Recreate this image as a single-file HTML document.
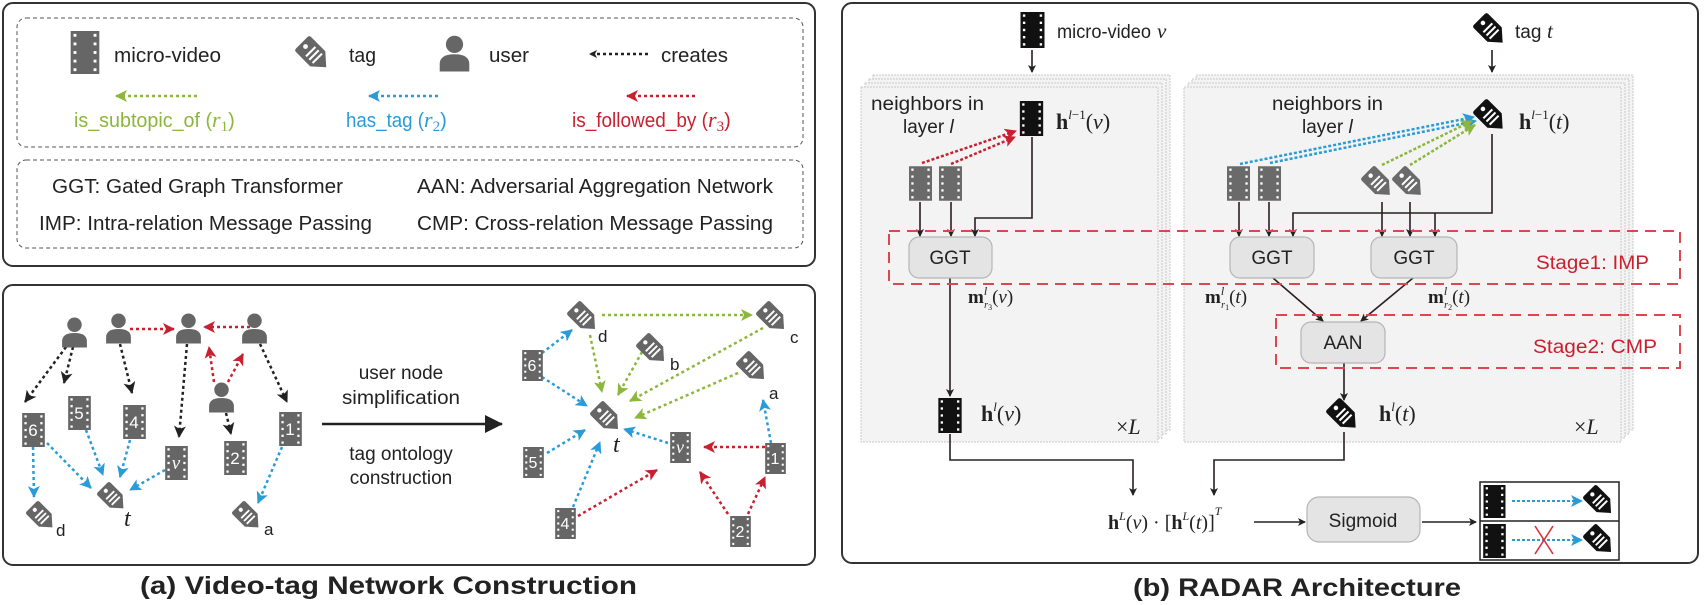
<!DOCTYPE html>
<html><head><meta charset="utf-8"><style>
html,body{margin:0;padding:0;background:#fff;}
svg{display:block;}
.s{font-family:"Liberation Sans",sans-serif;}
.m{font-family:"Liberation Serif",serif;}
</style></head><body>
<svg width="1704" height="605" viewBox="0 0 1704 605" xmlns="http://www.w3.org/2000/svg">
<defs>
<symbol id="vid" viewBox="0 0 20 30"><rect x="0" y="0" width="20" height="30"/>
<g fill="#fff"><rect x="2" y="2" width="2" height="2"/><rect x="2" y="8" width="2" height="2"/><rect x="2" y="14" width="2" height="2"/><rect x="2" y="20" width="2" height="2"/><rect x="2" y="26" width="2" height="2"/>
<rect x="16" y="2" width="2" height="2"/><rect x="16" y="8" width="2" height="2"/><rect x="16" y="14" width="2" height="2"/><rect x="16" y="20" width="2" height="2"/><rect x="16" y="26" width="2" height="2"/></g></symbol>
<symbol id="tag" viewBox="0 0 30 30"><g transform="rotate(-45 15 15)"><path d="M7,4 Q7,2 9,2 H21 Q23,2 23,4 V19 L15,28 L7,19 Z"/><circle cx="15" cy="6" r="1.8" fill="#fff"/><g stroke="#fff" stroke-width="1.6"><line x1="10" y1="11.5" x2="20" y2="11.5"/><line x1="10" y1="15" x2="20" y2="15"/><line x1="10" y1="18.5" x2="20" y2="18.5"/></g></g></symbol>
<symbol id="usr" viewBox="0 0 30 30"><circle cx="15" cy="8" r="7"/><path d="M3,30 V24 Q3,16 15,16 Q27,16 27,24 V30 Z"/></symbol>
<marker id="mk" markerWidth="8" markerHeight="8" refX="7" refY="4" orient="auto" markerUnits="userSpaceOnUse"><path d="M0,0 L8,4 L0,8 L2,4 Z" fill="#222"/></marker>
<marker id="mg" markerWidth="12" markerHeight="12" refX="11" refY="6" orient="auto" markerUnits="userSpaceOnUse"><path d="M0,0 L12,6 L0,12 L3,6 Z" fill="#8cb63c"/></marker>
<marker id="mb" markerWidth="12" markerHeight="12" refX="11" refY="6" orient="auto" markerUnits="userSpaceOnUse"><path d="M0,0 L12,6 L0,12 L3,6 Z" fill="#2b9bd8"/></marker>
<marker id="mr" markerWidth="12" markerHeight="12" refX="11" refY="6" orient="auto" markerUnits="userSpaceOnUse"><path d="M0,0 L12,6 L0,12 L3,6 Z" fill="#c8202f"/></marker>
<marker id="mkk" markerWidth="12" markerHeight="12" refX="11" refY="6" orient="auto" markerUnits="userSpaceOnUse"><path d="M0,0 L12,6 L0,12 L3,6 Z" fill="#222"/></marker>
<marker id="mbig" markerWidth="18" markerHeight="18" refX="17" refY="9" orient="auto" markerUnits="userSpaceOnUse"><path d="M0,0 L18,9 L0,18 Z" fill="#222"/></marker>
</defs>

<rect x="3" y="3" width="812" height="263" rx="10" fill="#fff" stroke="#333" stroke-width="2"/>
<rect x="17" y="18" width="786" height="129" rx="9" fill="none" stroke="#555" stroke-width="1" stroke-dasharray="4 3"/>
<rect x="17" y="160" width="786" height="88" rx="9" fill="none" stroke="#555" stroke-width="1" stroke-dasharray="4 3"/>
<use href="#vid" x="69" y="31" width="32" height="43" fill="#666" preserveAspectRatio="none"/>
<text class="s" x="114" y="62" font-size="20" textLength="107" lengthAdjust="spacingAndGlyphs" fill="#222">micro-video</text>
<use href="#tag" x="294" y="35" width="40" height="40" fill="#666"/>
<text class="s" x="349" y="62" font-size="20" textLength="27" lengthAdjust="spacingAndGlyphs" fill="#222">tag</text>
<use href="#usr" x="436" y="33" width="37" height="40" fill="#666" preserveAspectRatio="none"/>
<text class="s" x="489" y="62" font-size="20" textLength="40" lengthAdjust="spacingAndGlyphs" fill="#222">user</text>
<line x1="648" y1="54" x2="590" y2="54" stroke="#222" stroke-width="2.5" stroke-dasharray="3 3" marker-end="url(#mk)"/>
<text class="s" x="661" y="62" font-size="20" textLength="67" lengthAdjust="spacingAndGlyphs" fill="#222">creates</text>
<line x1="197" y1="96" x2="116" y2="96" stroke="#8cb63c" stroke-width="2.5" stroke-dasharray="3 3" marker-end="url(#mg)"/>
<line x1="438" y1="96" x2="369" y2="96" stroke="#2b9bd8" stroke-width="2.5" stroke-dasharray="3 3" marker-end="url(#mb)"/>
<line x1="695" y1="96" x2="627" y2="96" stroke="#c8202f" stroke-width="2.5" stroke-dasharray="3 3" marker-end="url(#mr)"/>
<text class="s" x="74" y="127" font-size="20" fill="#8cb63c"><tspan textLength="138" lengthAdjust="spacingAndGlyphs">is_subtopic_of (</tspan><tspan class="m" font-style="italic" font-size="22">r</tspan><tspan class="m" font-size="15" dy="4">1</tspan><tspan dy="-4">)</tspan></text>
<text class="s" x="346" y="127" font-size="20" fill="#2b9bd8"><tspan textLength="78" lengthAdjust="spacingAndGlyphs">has_tag (</tspan><tspan class="m" font-style="italic" font-size="22">r</tspan><tspan class="m" font-size="15" dy="4">2</tspan><tspan dy="-4">)</tspan></text>
<text class="s" x="572" y="127" font-size="20" fill="#c8202f"><tspan textLength="136" lengthAdjust="spacingAndGlyphs">is_followed_by (</tspan><tspan class="m" font-style="italic" font-size="22">r</tspan><tspan class="m" font-size="15" dy="4">3</tspan><tspan dy="-4">)</tspan></text>
<text class="s" x="52" y="193" font-size="20" textLength="291" lengthAdjust="spacingAndGlyphs" fill="#222">GGT: Gated Graph Transformer</text>
<text class="s" x="417" y="193" font-size="20" textLength="356" lengthAdjust="spacingAndGlyphs" fill="#222">AAN: Adversarial Aggregation Network</text>
<text class="s" x="39" y="230" font-size="20" textLength="333" lengthAdjust="spacingAndGlyphs" fill="#222">IMP: Intra-relation Message Passing</text>
<text class="s" x="417" y="230" font-size="20" textLength="356" lengthAdjust="spacingAndGlyphs" fill="#222">CMP: Cross-relation Message Passing</text>

<rect x="3" y="285" width="812" height="280" rx="10" fill="#fff" stroke="#333" stroke-width="2"/>
<g stroke-width="2.5" stroke-dasharray="3 3" fill="none">
<g stroke="#222">
<line x1="66" y1="347" x2="25" y2="402" marker-end="url(#mkk)"/>
<line x1="73" y1="347" x2="64" y2="383" marker-end="url(#mkk)"/>
<line x1="120" y1="344" x2="132" y2="393" marker-end="url(#mkk)"/>
<line x1="187" y1="344" x2="179" y2="437" marker-end="url(#mkk)"/>
<line x1="226" y1="413" x2="231" y2="434" marker-end="url(#mkk)"/>
<line x1="260" y1="344" x2="287" y2="402" marker-end="url(#mkk)"/>
</g>
<g stroke="#c8202f">
<line x1="130" y1="329" x2="174" y2="329" marker-end="url(#mr)"/>
<line x1="250" y1="327" x2="204" y2="327" marker-end="url(#mr)"/>
<line x1="214" y1="382" x2="209" y2="347" marker-end="url(#mr)"/>
<line x1="228" y1="382" x2="243" y2="354" marker-end="url(#mr)"/>
</g>
<g stroke="#2b9bd8">
<line x1="33" y1="447" x2="34" y2="497" marker-end="url(#mb)"/>
<line x1="47" y1="443" x2="91" y2="488" marker-end="url(#mb)"/>
<line x1="86" y1="430" x2="103" y2="475" marker-end="url(#mb)"/>
<line x1="130" y1="440" x2="120" y2="477" marker-end="url(#mb)"/>
<line x1="165" y1="470" x2="130" y2="490" marker-end="url(#mb)"/>
<line x1="282" y1="447" x2="258" y2="503" marker-end="url(#mb)"/>
</g>
</g>
<g fill="#666">
<use href="#usr" x="59" y="316" width="31" height="32"/>
<use href="#usr" x="103" y="312" width="31" height="32"/>
<use href="#usr" x="173" y="312" width="31" height="32"/>
<use href="#usr" x="239" y="312" width="31" height="32"/>
<use href="#usr" x="206" y="381" width="31" height="32"/>
<use href="#vid" x="21" y="413" width="25" height="34" preserveAspectRatio="none"/>
<use href="#vid" x="67" y="396" width="25" height="34" preserveAspectRatio="none"/>
<use href="#vid" x="122" y="405" width="25" height="34" preserveAspectRatio="none"/>
<use href="#vid" x="164" y="446" width="25" height="34" preserveAspectRatio="none"/>
<use href="#vid" x="223" y="441" width="25" height="34" preserveAspectRatio="none"/>
<use href="#vid" x="278" y="412" width="25" height="34" preserveAspectRatio="none"/>
<use href="#tag" x="25" y="500" width="34" height="34"/>
<use href="#tag" x="96" y="481" width="34" height="34"/>
<use href="#tag" x="231" y="500" width="34" height="34"/>
</g>
<g class="s" font-size="17" fill="#fff" text-anchor="middle">
<text x="33" y="436">6</text><text x="79" y="419">5</text><text x="134" y="428">4</text><text x="235" y="464">2</text><text x="290" y="435">1</text>
</g>
<text class="m" x="176" y="469" font-size="19" font-style="italic" fill="#fff" text-anchor="middle">v</text>
<g class="s" font-size="17" fill="#222"><text x="56" y="536">d</text><text x="264" y="535">a</text></g>
<text class="m" x="124" y="526" font-size="24" font-style="italic" fill="#222">t</text>
<line x1="322" y1="424" x2="502" y2="424" stroke="#222" stroke-width="2.5" marker-end="url(#mbig)"/>
<g class="s" font-size="19" fill="#222" text-anchor="middle">
<text x="401" y="379">user node</text>
<text x="401" y="404" textLength="118" lengthAdjust="spacingAndGlyphs">simplification</text>
<text x="401" y="460">tag ontology</text>
<text x="401" y="484">construction</text>
</g>
<g stroke-width="2.5" stroke-dasharray="3 3" fill="none">
<g stroke="#8cb63c">
<line x1="602" y1="315" x2="752" y2="315" marker-end="url(#mg)"/>
<line x1="590" y1="335" x2="602" y2="392" marker-end="url(#mg)"/>
<line x1="642" y1="352" x2="618" y2="395" marker-end="url(#mg)"/>
<line x1="763" y1="328" x2="630" y2="401" marker-end="url(#mg)"/>
<line x1="738" y1="373" x2="635" y2="418" marker-end="url(#mg)"/>
</g>
<g stroke="#2b9bd8">
<line x1="542" y1="353" x2="572" y2="330" marker-end="url(#mb)"/>
<line x1="542" y1="377" x2="587" y2="406" marker-end="url(#mb)"/>
<line x1="547" y1="453" x2="585" y2="430" marker-end="url(#mb)"/>
<line x1="573" y1="507" x2="600" y2="442" marker-end="url(#mb)"/>
<line x1="668" y1="443" x2="624" y2="429" marker-end="url(#mb)"/>
<line x1="771" y1="443" x2="763" y2="400" marker-end="url(#mb)"/>
</g>
<g stroke="#c8202f">
<line x1="578" y1="516" x2="657" y2="470" marker-end="url(#mr)"/>
<line x1="765" y1="447" x2="704" y2="447" marker-end="url(#mr)"/>
<line x1="728" y1="514" x2="700" y2="472" marker-end="url(#mr)"/>
<line x1="748" y1="514" x2="765" y2="477" marker-end="url(#mr)"/>
</g>
</g>
<g fill="#666">
<use href="#tag" x="566" y="300" width="36" height="36"/>
<use href="#tag" x="635" y="332" width="36" height="36"/>
<use href="#tag" x="755" y="300" width="36" height="36"/>
<use href="#tag" x="735" y="350" width="36" height="36"/>
<use href="#tag" x="589" y="400" width="36" height="36"/>
<use href="#vid" x="521" y="350" width="23" height="31" preserveAspectRatio="none"/>
<use href="#vid" x="522" y="447" width="23" height="31" preserveAspectRatio="none"/>
<use href="#vid" x="554" y="508" width="23" height="31" preserveAspectRatio="none"/>
<use href="#vid" x="669" y="432" width="23" height="31" preserveAspectRatio="none"/>
<use href="#vid" x="729" y="516" width="23" height="31" preserveAspectRatio="none"/>
<use href="#vid" x="764" y="443" width="23" height="31" preserveAspectRatio="none"/>
</g>
<g class="s" font-size="16" fill="#fff" text-anchor="middle">
<text x="532" y="371">6</text><text x="533" y="468">5</text><text x="565" y="529">4</text><text x="740" y="537">2</text><text x="775" y="464">1</text>
</g>
<text class="m" x="680" y="453" font-size="18" font-style="italic" fill="#fff" text-anchor="middle">v</text>
<g class="s" font-size="17" fill="#222"><text x="598" y="342">d</text><text x="670" y="370">b</text><text x="790" y="343">c</text><text x="769" y="399">a</text></g>
<text class="m" x="613" y="452" font-size="24" font-style="italic" fill="#222">t</text>
<text class="s" x="140" y="594" font-size="25" font-weight="bold" textLength="497" lengthAdjust="spacingAndGlyphs" fill="#222">(a) Video-tag Network Construction</text>

<rect x="842" y="3" width="856" height="560" rx="10" fill="#fff" stroke="#333" stroke-width="2"/>
<g fill="#f3f3f3" stroke="#c8c8c8" stroke-width="1" stroke-dasharray="2 1">
<rect x="873" y="75" width="297" height="355"/><rect x="869" y="79" width="297" height="355"/><rect x="865" y="83" width="297" height="355"/><rect x="861" y="87" width="297" height="355"/>
<rect x="1196" y="75" width="437" height="355"/><rect x="1192" y="79" width="437" height="355"/><rect x="1188" y="83" width="437" height="355"/><rect x="1184" y="87" width="437" height="355"/>
</g>
<use href="#vid" x="1019" y="12" width="27" height="36" fill="#111" preserveAspectRatio="none"/>
<text class="s" x="1057" y="38" font-size="19" textLength="94" lengthAdjust="spacingAndGlyphs" fill="#222">micro-video</text>
<text class="m" x="1157" y="38" font-size="21" font-style="italic" fill="#222">v</text>
<use href="#tag" x="1472" y="12" width="38" height="38" fill="#111"/>
<text class="s" x="1515" y="38" font-size="19" fill="#222">tag</text>
<text class="m" x="1547" y="38" font-size="21" font-style="italic" fill="#222">t</text>
<g stroke="#2a2020" stroke-width="1.6" fill="none">
<line x1="1032" y1="50" x2="1032" y2="72" marker-end="url(#mk)"/>
<line x1="1492" y1="50" x2="1492" y2="72" marker-end="url(#mk)"/>
</g>
<g class="s" font-size="19" fill="#222">
<text x="871" y="110" textLength="113" lengthAdjust="spacingAndGlyphs">neighbors in</text>
<text x="903" y="133">layer <tspan font-style="italic">l</tspan></text>
<text x="1272" y="110" textLength="111" lengthAdjust="spacingAndGlyphs">neighbors in</text>
<text x="1302" y="133">layer <tspan font-style="italic">l</tspan></text>
</g>
<use href="#vid" x="1019" y="101" width="25" height="35" fill="#111" preserveAspectRatio="none"/>
<text class="m" x="1056" y="129" font-size="22" fill="#222"><tspan font-weight="bold">h</tspan><tspan font-size="13" dy="-10" font-style="italic">l</tspan><tspan font-size="13">−1</tspan><tspan dy="10">(</tspan><tspan font-style="italic">v</tspan>)</text>
<use href="#tag" x="1472" y="98" width="38" height="38" fill="#111"/>
<text class="m" x="1519" y="129" font-size="22" fill="#222"><tspan font-weight="bold">h</tspan><tspan font-size="13" dy="-10" font-style="italic">l</tspan><tspan font-size="13">−1</tspan><tspan dy="10">(</tspan><tspan font-style="italic">t</tspan>)</text>
<g fill="#6a6a6a">
<use href="#vid" x="909" y="166" width="23" height="35" preserveAspectRatio="none"/>
<use href="#vid" x="939" y="166" width="23" height="35" preserveAspectRatio="none"/>
<use href="#vid" x="1227" y="166" width="23" height="35" preserveAspectRatio="none"/>
<use href="#vid" x="1258" y="166" width="23" height="35" preserveAspectRatio="none"/>
<use href="#tag" x="1360" y="165" width="37" height="37"/>
<use href="#tag" x="1391" y="165" width="37" height="37"/>
</g>
<g stroke-width="2.5" stroke-dasharray="3 2" fill="none">
<line x1="922" y1="163" x2="1016" y2="131" stroke="#c8202f" marker-end="url(#mr)"/>
<line x1="951" y1="164" x2="1015" y2="137" stroke="#c8202f" marker-end="url(#mr)"/>
<line x1="1240" y1="164" x2="1474" y2="117" stroke="#2b9bd8" marker-end="url(#mb)"/>
<line x1="1270" y1="163" x2="1476" y2="121" stroke="#2b9bd8" marker-end="url(#mb)"/>
<line x1="1382" y1="165" x2="1472" y2="121" stroke="#8cb63c" marker-end="url(#mg)"/>
<line x1="1410" y1="165" x2="1475" y2="125" stroke="#8cb63c" marker-end="url(#mg)"/>
</g>
<g stroke="#2a2020" stroke-width="1.6" fill="none">
<line x1="920" y1="202" x2="920" y2="236" marker-end="url(#mk)"/>
<line x1="951" y1="202" x2="951" y2="236" marker-end="url(#mk)"/>
<polyline points="1032,137 1032,218 975,218 975,236" marker-end="url(#mk)"/>
<line x1="1239" y1="202" x2="1239" y2="236" marker-end="url(#mk)"/>
<line x1="1269" y1="202" x2="1269" y2="236" marker-end="url(#mk)"/>
<line x1="1382" y1="202" x2="1382" y2="236" marker-end="url(#mk)"/>
<line x1="1410" y1="202" x2="1410" y2="236" marker-end="url(#mk)"/>
<polyline points="1492,134 1492,213 1293,213 1293,236" marker-end="url(#mk)"/>
<line x1="1435" y1="213" x2="1435" y2="236" marker-end="url(#mk)"/>
<line x1="950" y1="278" x2="950" y2="396" marker-end="url(#mk)"/>
<line x1="1273" y1="278" x2="1323" y2="321" marker-end="url(#mk)"/>
<line x1="1413" y1="278" x2="1361" y2="321" marker-end="url(#mk)"/>
<line x1="1344" y1="363" x2="1344" y2="400" marker-end="url(#mk)"/>
<polyline points="950,434 950,460 1133,460 1133,495" marker-end="url(#mk)"/>
<polyline points="1344,432 1344,460 1214,460 1214,495" marker-end="url(#mk)"/>
<line x1="1254" y1="522" x2="1305" y2="522" marker-end="url(#mk)"/>
<line x1="1422" y1="522" x2="1476" y2="522" marker-end="url(#mk)"/>
</g>
<g fill="#e4e4e4" stroke="#b5b5b5" stroke-width="1.2">
<rect x="909" y="237" width="83" height="41" rx="10"/>
<rect x="1230" y="237" width="84" height="41" rx="10"/>
<rect x="1371" y="237" width="86" height="41" rx="10"/>
<rect x="1301" y="322" width="84" height="41" rx="10"/>
<rect x="1307" y="497" width="113" height="45" rx="12"/>
</g>
<g class="s" font-size="19" fill="#222" text-anchor="middle">
<text x="950" y="264">GGT</text><text x="1272" y="264">GGT</text><text x="1414" y="264">GGT</text><text x="1343" y="349">AAN</text><text x="1363" y="527">Sigmoid</text>
</g>
<g fill="none" stroke="#d9484f" stroke-width="2" stroke-dasharray="11 7">
<rect x="889" y="231" width="791" height="53"/>
<rect x="1276" y="315" width="404" height="53"/>
</g>
<text class="s" x="1536" y="269" font-size="19" textLength="113" lengthAdjust="spacingAndGlyphs" fill="#c8202f">Stage1: IMP</text>
<text class="s" x="1533" y="353" font-size="19" textLength="124" lengthAdjust="spacingAndGlyphs" fill="#c8202f">Stage2: CMP</text>
<g class="m" font-size="19" fill="#222">
<text x="968" y="303"><tspan font-weight="bold">m</tspan><tspan font-size="12" dy="-8" font-style="italic">l</tspan><tspan font-size="10" dy="13" dx="-3" font-style="italic">r</tspan><tspan font-size="8" dy="2">3</tspan><tspan dy="-7">(</tspan><tspan font-style="italic">v</tspan>)</text>
<text x="1205" y="303"><tspan font-weight="bold">m</tspan><tspan font-size="12" dy="-8" font-style="italic">l</tspan><tspan font-size="10" dy="13" dx="-3" font-style="italic">r</tspan><tspan font-size="8" dy="2">1</tspan><tspan dy="-7">(</tspan><tspan font-style="italic">t</tspan>)</text>
<text x="1428" y="303"><tspan font-weight="bold">m</tspan><tspan font-size="12" dy="-8" font-style="italic">l</tspan><tspan font-size="10" dy="13" dx="-3" font-style="italic">r</tspan><tspan font-size="8" dy="2">2</tspan><tspan dy="-7">(</tspan><tspan font-style="italic">t</tspan>)</text>
</g>
<use href="#vid" x="938" y="398" width="24" height="35" fill="#111" preserveAspectRatio="none"/>
<text class="m" x="981" y="421" font-size="22" fill="#222"><tspan font-weight="bold">h</tspan><tspan font-size="13" dy="-10" font-style="italic">l</tspan><tspan dy="10">(</tspan><tspan font-style="italic">v</tspan>)</text>
<use href="#tag" x="1325" y="397" width="38" height="38" fill="#111"/>
<text class="m" x="1379" y="421" font-size="22" fill="#222"><tspan font-weight="bold">h</tspan><tspan font-size="13" dy="-10" font-style="italic">l</tspan><tspan dy="10">(</tspan><tspan font-style="italic">t</tspan>)</text>
<text class="m" x="1116" y="434" font-size="22" fill="#222">×<tspan font-style="italic">L</tspan></text>
<text class="m" x="1574" y="434" font-size="22" fill="#222">×<tspan font-style="italic">L</tspan></text>
<text class="m" x="1108" y="529" font-size="20" fill="#222"><tspan font-weight="bold">h</tspan><tspan font-size="12" dy="-9" font-style="italic">L</tspan><tspan dy="9">(</tspan><tspan font-style="italic">v</tspan>) · [<tspan font-weight="bold">h</tspan><tspan font-size="12" dy="-9" font-style="italic">L</tspan><tspan dy="9">(</tspan><tspan font-style="italic">t</tspan>)]<tspan font-size="12" dy="-14" font-style="italic">T</tspan></text>
<rect x="1480" y="482" width="139" height="78" fill="#fff" stroke="#222" stroke-width="1.5"/>
<line x1="1480" y1="521" x2="1619" y2="521" stroke="#222" stroke-width="1.5"/>
<use href="#vid" x="1482" y="485" width="25" height="33" fill="#111" preserveAspectRatio="none"/>
<use href="#vid" x="1482" y="524" width="25" height="34" fill="#111" preserveAspectRatio="none"/>
<line x1="1512" y1="501" x2="1582" y2="501" stroke="#2b9bd8" stroke-width="2" stroke-dasharray="3 2" marker-end="url(#mb)"/>
<line x1="1512" y1="540" x2="1582" y2="540" stroke="#2b9bd8" stroke-width="2" stroke-dasharray="3 2" marker-end="url(#mb)"/>
<use href="#tag" x="1582" y="484" width="36" height="36" fill="#111"/>
<use href="#tag" x="1582" y="523" width="36" height="36" fill="#111"/>
<g stroke="#d9303a" stroke-width="1.6"><line x1="1535" y1="526" x2="1553" y2="554"/><line x1="1553" y1="526" x2="1535" y2="554"/></g>
<text class="s" x="1133" y="596" font-size="25" font-weight="bold" textLength="328" lengthAdjust="spacingAndGlyphs" fill="#222">(b) RADAR Architecture</text>
</svg>
</body></html>
